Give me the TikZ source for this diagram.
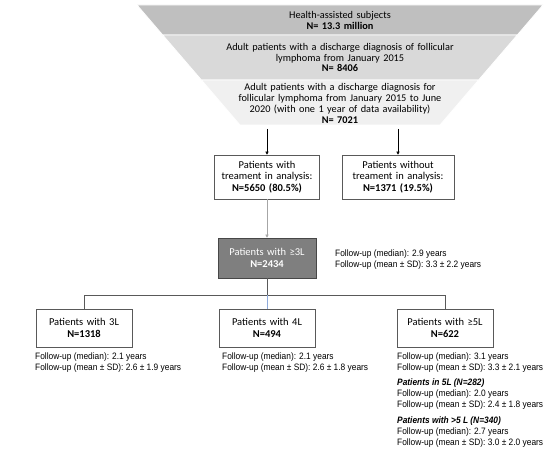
\documentclass[tikz,border=0pt]{standalone}
\usepackage{fontspec}
\setmainfont{Carlito}
\newfontfamily\fufont[FakeStretch=0.9]{Liberation Sans}
\usetikzlibrary{arrows.meta}

\definecolor{bandA}{HTML}{BFBFBF}
\definecolor{bandB}{HTML}{D9D9D9}
\definecolor{bandC}{HTML}{F0F0F0}
\definecolor{boxline}{HTML}{595959}
\definecolor{darkbox}{HTML}{7F7F7F}
\definecolor{treeblue}{HTML}{8EAADB}

\begin{document}
\begin{tikzpicture}[x=1pt,y=-1pt,
    box/.style={draw=boxline,line width=0.6pt,fill=white,minimum width=96pt,minimum height=38pt,text width=92pt,align=center,inner sep=1pt,font=\fontsize{10.5}{11.6}\selectfont},
    band/.style={text width=260pt,align=center,inner sep=0pt,font=\fontsize{10.3}{10.7}\selectfont},
    fu/.style={anchor=north west,align=left,inner sep=0pt,font=\fufont\fontsize{9.3}{11}\selectfont},
    arr/.style={-{Triangle[length=3pt,width=3pt]},line width=0.5pt}]

            \useasboundingbox (0,0) rectangle (550,460);

            % funnel
            \fill[bandA,draw=white,line width=0.8pt] (137,5) -- (543,5) -- (517.3,35) -- (162.7,35) -- cycle;
            \fill[bandB,draw=white,line width=0.8pt] (162.7,35) -- (517.3,35) -- (478.6,80) -- (201.4,80) -- cycle;
            \fill[bandC,draw=white,line width=0.8pt] (201.4,80) -- (478.6,80) -- (440,125) -- (240,125) -- cycle;

            \node (subj) at (340,20.5) [band] {Health-assisted subjects\\\textbf{N= 13.3 million}};
            \node (adult) at (340,57.5) [band] {Adult patients with a discharge diagnosis of follicular\\lymphoma from January 2015\\\textbf{N= 8406}};
            \node (fl) at (340,103.5) [band] {Adult patients with a discharge diagnosis for\\follicular lymphoma from January 2015 to June\\2020 (with one 1 year of data availability)\\\textbf{N= 7021}};

            \coordinate (outL) at (267,129);
            \coordinate (outR) at (398,129);

            % treatment split
            \node (treat) at (267,177) [box,minimum width=105pt,text width=101pt,minimum height=44pt] {Patients with\\treament in analysis:\\\textbf{N=5650 (80.5\%)}};
            \node (notreat) at (398,177) [box,minimum width=112pt,text width=108pt,minimum height=44pt] {Patients without\\treament in analysis:\\\textbf{N=1371 (19.5\%)}};

            \draw[arr] (outL) -- (treat.north);
            \draw[arr] (outR) -- (notreat.north);

            \node (l3) at (267,258) [box,fill=darkbox,draw=boxline!80!black,text=white,minimum width=98pt,text width=94pt,minimum height=40pt] {Patients with ≥3L\\\textbf{N=2434}};
            \draw[arr,draw=gray!70] (treat.south) -- (l3.north);

            \node (fuall) at (335,250) [fu] {Follow-up (median): 2.9 years\\Follow-up (mean ± SD): 3.3 ± 2.2 years};

            % lines of therapy
            \node (b3) at (84,328) [box] {Patients with 3L\\\textbf{N=1318}};
            \node (b4) at (267,328) [box] {Patients with 4L\\\textbf{N=494}};
            \node (b5) at (445,328) [box] {Patients with ≥5L\\\textbf{N=622}};

            \draw[boxline,line width=0.6pt] (l3.south) -- ++(0,17) coordinate (hub);
            \draw[boxline,line width=0.6pt] (b3.north) |- (hub) -| (b5.north);
            \draw[treeblue,line width=0.6pt] (hub) -- (b4.north);

            \node (fu3) at (35,353) [fu] {Follow-up (median): 2.1 years\\Follow-up (mean ± SD): 2.6 ± 1.9 years};
            \node (fu4) at (222,353) [fu] {Follow-up (median): 2.1 years\\Follow-up (mean ± SD): 2.6 ± 1.8 years};
            \node (fu5) at (397,353) [fu] {Follow-up (median): 3.1 years\\Follow-up (mean ± SD): 3.3 ± 2.1 years\\[4pt]
                \textbf{\textit{Patients in 5L (N=282)}}\\Follow-up (median): 2.0 years\\Follow-up (mean ± SD): 2.4 ± 1.8 years\\[5pt]
                \textbf{\textit{Patients with >5 L (N=340)}}\\Follow-up (median): 2.7 years\\Follow-up (mean ± SD): 3.0 ± 2.0 years};

        \end{tikzpicture}
\end{document}
